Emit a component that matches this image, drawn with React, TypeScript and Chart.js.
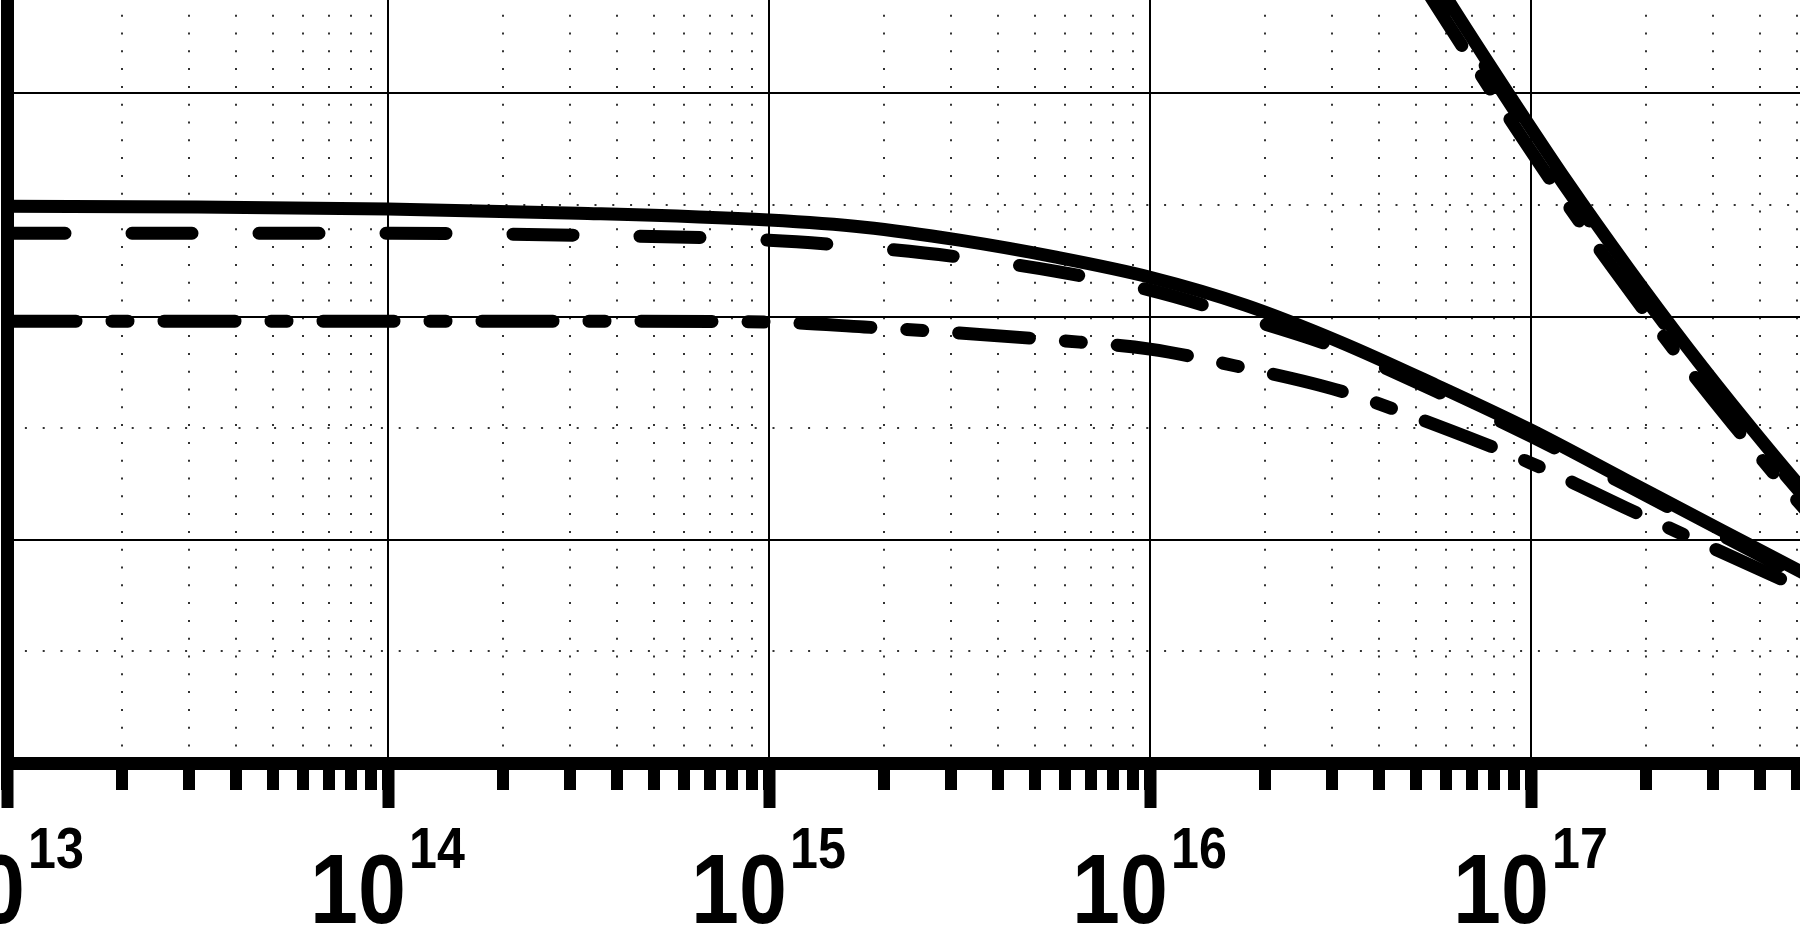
import { useEffect, useRef } from 'react';
import { Chart, registerables } from 'chart.js';

Chart.register(...registerables);

// x positions
const flatX = [1e13, 3.162e13, 1e14, 3.162e14, 1e15, 1.778e15, 3.162e15, 5.623e15, 1e16, 1.778e16, 3.162e16, 5.623e16, 1e17, 1.778e17, 3.162e17, 5.623e17, 1e18];
const flatSolid = [2.494, 2.490, 2.481, 2.463, 2.432, 2.400, 2.342, 2.267, 2.176, 2.051, 1.885, 1.693, 1.491, 1.267, 1.043, 0.820, 0.605];
const flatDashed = [2.373, 2.373, 2.373, 2.364, 2.342, 2.311, 2.266, 2.203, 2.118, 1.993, 1.854, 1.666, 1.464, 1.245, 1.021, 0.797, 0.582];
const flatDashDot = [1.979, 1.979, 1.979, 1.979, 1.975, 1.953, 1.926, 1.894, 1.854, 1.769, 1.666, 1.514, 1.343, 1.142, 0.945, 0.752, 0.560];

const steepSolidX = [3.516e16, 4.753e16, 6.053e16, 8.710e16, 1.250e17, 1.799e17, 2.582e17, 3.715e17, 5.333e17, 9.772e17];
const steepDashedX = [3.412e16, 4.613e16, 5.875e16, 8.453e16, 1.213e17, 1.746e17, 2.506e17, 3.606e17, 5.176e17, 9.484e17];
const steepDashDotX = [3.206e16, 4.335e16, 5.521e16, 7.943e16, 1.140e17, 1.641e17, 2.355e17, 3.388e17, 4.864e17, 8.913e17];
const steepY = [4.085, 3.709, 3.418, 3.000, 2.598, 2.217, 1.858, 1.518, 1.198, 0.708];

// axis ticks
const decadeTicks = [1e13, 1e14, 1e15, 1e16, 1e17, 1e18];
const decadeLabels = ['13', '14', '15', '16', '17', '18'];
const minorMultipliers = [2, 3, 4, 5, 6, 7, 8, 9];
const yTicks = [0, 0.5, 1, 1.5, 2, 2.5, 3, 3.5, 4];

const isDecade = (v: number) => Math.abs(Math.log10(v) - Math.round(Math.log10(v))) < 1e-6;

const exponentLabels = {
  id: 'exponentLabels',
  afterDraw(chart: any) {
    const { ctx, scales } = chart;
    const y0 = scales.y.getPixelForValue(0);
    ctx.save();
    ctx.fillStyle = '#000';
    ctx.textBaseline = 'alphabetic';
    decadeTicks.forEach((v, i) => {
      const x = scales.x.getPixelForValue(v);
      ctx.save();
      ctx.translate(x + 18, y0 + 160);
      ctx.scale(0.88, 1);
      ctx.font = 'bold 98px "Liberation Sans", Arial, sans-serif';
      ctx.textAlign = 'right';
      ctx.fillText('10', 0, 0);
      ctx.restore();
      ctx.save();
      ctx.translate(x + 21, y0 + 105);
      ctx.scale(0.88, 1);
      ctx.font = 'bold 57px "Liberation Sans", Arial, sans-serif';
      ctx.textAlign = 'left';
      ctx.fillText(decadeLabels[i], 0, 0);
      ctx.restore();
    });
    ctx.restore();
  },
};

const line = (xs: number[], ys: number[], dash: number[]) => ({
  data: xs.map((x, i) => ({ x, y: ys[i] })),
  borderColor: '#000',
  borderWidth: 13,
  borderDash: dash,
  borderDashOffset: 2,
  borderCapStyle: 'round' as const,
  borderJoinStyle: 'round' as const,
  pointRadius: 0,
  cubicInterpolationMode: 'monotone' as const,
  fill: false,
});

export default function App() {
  const canvasRef = useRef<HTMLCanvasElement>(null);

  useEffect(() => {
    const canvas = canvasRef.current;
    if (!canvas) return;

    const chart = new Chart(canvas, {
      type: 'line',
      data: {
        datasets: [
          line(flatX, flatSolid, []),
          line(flatX, flatDashed, [60, 67]),
          line(flatX, flatDashDot, [71, 36, 16, 36]),
          line(steepSolidX, steepY, []),
          line(steepDashedX, steepY, [60, 67]),
          line(steepDashDotX, steepY, [71, 36, 16, 36]),
        ],
      },
      options: {
        responsive: false,
        devicePixelRatio: 1,
        animation: false,
        layout: { padding: { left: 120, right: 0, top: 0, bottom: 220 } },
        plugins: { legend: { display: false }, tooltip: { enabled: false } },
        scales: {
          x: {
            type: 'logarithmic',
            position: 'bottom',
            min: 1e13,
            max: 1e18,
            afterBuildTicks: (scale: any) => {
              const vals: number[] = [];
              decadeTicks.forEach((d, i) => {
                vals.push(d);
                if (i < decadeTicks.length - 1) minorMultipliers.forEach((m) => vals.push(d * m));
              });
              scale.ticks = vals.map((value) => ({ value, major: isDecade(value) }));
            },
            afterFit: (scale: any) => { scale.height = 0; },
            ticks: { display: false, autoSkip: false },
            grid: {
              color: (c: any) => (c.tick && isDecade(c.tick.value) ? '#000' : '#333'),
              lineWidth: 2,
              drawTicks: true,
              tickLength: 27,
              tickWidth: 12,
              tickColor: '#000',
            },
            border: {
              display: true,
              width: 13,
              color: '#000',
              dash: (c: any) => (c.tick && !isDecade(c.tick.value) ? [2, 15.8] : []),
              dashOffset: 15.5,
            },
          },
          x2: {
            type: 'logarithmic',
            position: 'bottom',
            min: 1e13,
            max: 1e18,
            afterBuildTicks: (scale: any) => {
              scale.ticks = decadeTicks.map((value) => ({ value, major: true }));
            },
            afterFit: (scale: any) => { scale.height = 0; },
            ticks: { display: false, autoSkip: false },
            grid: {
              drawOnChartArea: false,
              drawTicks: true,
              tickLength: 45,
              tickWidth: 12,
              tickColor: '#000',
            },
            border: { display: false },
          },
          y: {
            type: 'linear',
            position: 'left',
            min: 0,
            max: 4,
            afterBuildTicks: (scale: any) => {
              scale.ticks = yTicks.map((value) => ({ value }));
            },
            afterFit: (scale: any) => { scale.width = 0; },
            ticks: { display: false },
            grid: {
              color: (c: any) => (c.tick && Number.isInteger(c.tick.value) ? '#000' : '#333'),
              lineWidth: 2,
              drawTicks: false,
            },
            border: {
              display: true,
              width: 13,
              color: '#000',
              dash: (c: any) => (c.tick && !Number.isInteger(c.tick.value) ? [2, 15.8] : []),
              dashOffset: 6.9,
            },
          },
        },
      },
      plugins: [exponentLabels],
    });

    // place the canvas so that the axes sit where they do in the figure
    const left = 7 - chart.scales.x.getPixelForValue(1e13);
    const top = 763 - chart.scales.y.getPixelForValue(0);
    canvas.style.left = `${left}px`;
    canvas.style.top = `${top}px`;

    return () => chart.destroy();
  }, []);

  return (
    <div style={{ position: 'fixed', left: 0, top: 0, width: 1800, height: 942, overflow: 'hidden', background: '#fff' }}>
      <canvas
        ref={canvasRef}
        width={2025}
        height={1113}
        style={{ position: 'absolute', width: 2025, height: 1113 }}
      />
    </div>
  );
}
